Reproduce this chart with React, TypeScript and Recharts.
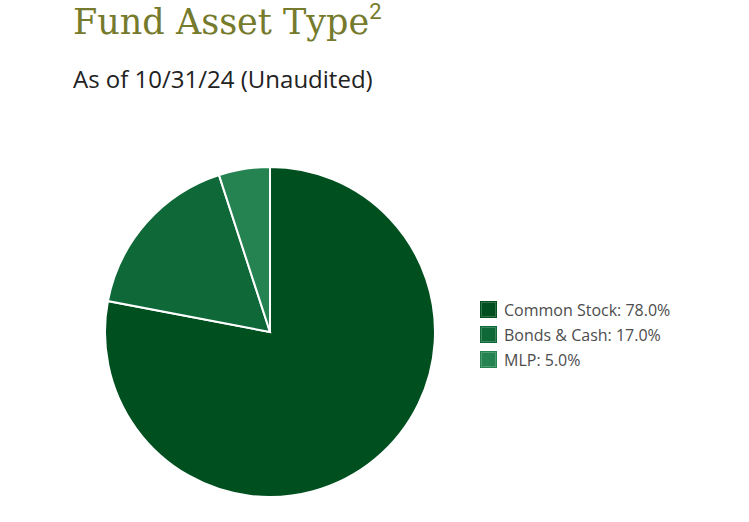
import React from 'react'
import { PieChart, Pie, Cell, Legend } from 'recharts'

const categories = ['Common Stock', 'Bonds & Cash', 'MLP']
const values = [78.0, 17.0, 5.0]
const colors = ['#004f1f', '#0e6838', '#258352']

const data = categories.map((name, i) => ({ name, value: values[i] }))

const LegendList = () => (
  <div style={{ fontFamily: '"Open Sans", sans-serif', fontSize: 16, color: '#4d4d4d' }}>
    {data.map((d, i) => (
      <div key={d.name} style={{ display: 'flex', alignItems: 'center', height: 25 }}>
        <span
          style={{
            display: 'inline-block',
            width: 13,
            height: 13,
            background: colors[i],
            border: '1px solid rgba(255,255,255,0.2)',
            outline: `1px solid ${colors[i]}`,
            marginRight: 8,
          }}
        />
        <span>
          {d.name}: {d.value.toFixed(1)}%
        </span>
      </div>
    ))}
  </div>
)

export default function App() {
  return (
    <div style={{ position: 'absolute', left: 0, top: 0, width: 749, height: 522, background: '#fff' }}>
      <div
        style={{
          position: 'absolute',
          left: 73,
          top: 0,
          fontFamily: '"DejaVu Serif", serif',
          fontSize: 35,
          color: '#757a2c',
          lineHeight: '44px',
          whiteSpace: 'nowrap',
        }}
      >
        Fund Asset Type
        <sup style={{ fontFamily: 'Roboto, sans-serif', fontSize: 22, lineHeight: 0, position: 'relative', top: -2 }}>
          2
        </sup>
      </div>
      <div
        style={{
          position: 'absolute',
          left: 73,
          top: 62,
          fontFamily: '"Open Sans", sans-serif',
          fontSize: 24,
          color: '#222',
          lineHeight: '34px',
          whiteSpace: 'nowrap',
        }}
      >
        As of 10/31/24 (Unaudited)
      </div>
      <PieChart
        width={749}
        height={522}
        margin={{ top: 0, right: 0, bottom: 0, left: 0 }}
        style={{ position: 'absolute', left: 0, top: 0 }}
      >
        <Pie
          data={data}
          dataKey="value"
          nameKey="name"
          cx={270}
          cy={332}
          outerRadius={165}
          startAngle={90}
          endAngle={-270}
          stroke="#ffffff"
          strokeWidth={2}
          isAnimationActive={false}
        >
          {data.map((d, i) => (
            <Cell key={d.name} fill={colors[i]} />
          ))}
        </Pie>
        <Legend
          content={<LegendList />}
          wrapperStyle={{ left: 481, top: 297, width: 260 }}
        />
      </PieChart>
    </div>
  )
}
